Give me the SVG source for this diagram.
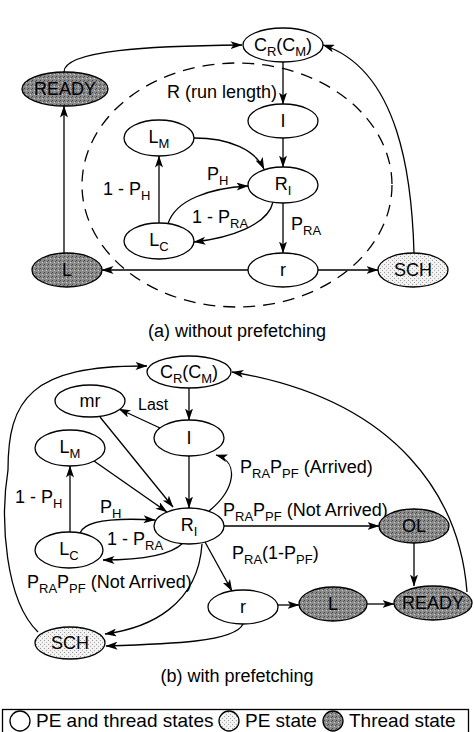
<svg xmlns="http://www.w3.org/2000/svg" width="474" height="732" viewBox="0 0 474 732">
<style>
text{font-family:"Liberation Sans",Arial,sans-serif;font-size:18px;fill:#000}
.s{font-size:13px}
.sm{font-size:16px}
.lg{font-size:19px}
.n{fill:#fff;stroke:#000;stroke-width:1.3}
.pe{fill:url(#lt);stroke:#000;stroke-width:1.3}
.th{fill:url(#dk);stroke:#000;stroke-width:1.3}
.e{fill:none;stroke:#000;stroke-width:1.3;marker-end:url(#ah)}
.m{text-anchor:middle}
</style>
<defs>
<marker id="ah" viewBox="0 0 12 8" refX="11.5" refY="4" markerWidth="12" markerHeight="8" orient="auto" markerUnits="userSpaceOnUse"><path d="M0,0 L12,4 L0,8 L3,4 z" fill="#000"/></marker>
<pattern id="lt" width="4" height="4" patternUnits="userSpaceOnUse"><rect width="4" height="4" fill="#f2f2f2"/><rect x="0" y="0" width="1" height="1" fill="#999"/><rect x="2" y="2" width="1" height="1" fill="#aaa"/></pattern>
<pattern id="dk" width="4" height="4" patternUnits="userSpaceOnUse"><rect width="4" height="4" fill="#8a8a8a"/><rect x="0" y="0" width="1" height="1" fill="#444"/><rect x="2" y="2" width="1" height="1" fill="#d0d0d0"/><rect x="3" y="1" width="1" height="1" fill="#555"/></pattern>
</defs>

<!-- (a) without prefetching -->
<ellipse cx="237" cy="185" rx="155" ry="122" fill="none" stroke="#000" stroke-width="1.3" stroke-dasharray="12,8"/>

<g id="edges-a">
<path class="e" d="M64,72 C64,50 150,46 242,45"/>
<path class="e" d="M283,62 L283,104"/>
<path class="e" d="M283,138 L283,167"/>
<path class="e" d="M194,138 C230,138 255,150 264,169"/>
<path class="e" d="M168,224 C175,200 210,188 248,186"/>
<path class="e" d="M273,202 C268,225 230,238 194,242"/>
<path class="e" d="M159,223 L159,156"/>
<path class="e" d="M283,203 L283,253"/>
<path class="e" d="M248,270 L102,270"/>
<path class="e" d="M318,270 L378,270"/>
<path class="e" d="M414,253 C412,180 400,70 323,45"/>
<path class="e" d="M64,253 L64,106"/>
<text x="167" y="98">R (run length)</text>
<text x="207" y="180">P<tspan class="s" dy="5">H</tspan></text>
<text x="103" y="195">1 - P<tspan class="s" dy="5">H</tspan></text>
<text x="192" y="223">1 - P<tspan class="s" dy="5">RA</tspan></text>
<text x="291" y="230">P<tspan class="s" dy="5">RA</tspan></text>
</g>

<g id="a-cr"><ellipse class="n" cx="283" cy="45" rx="40" ry="17"/><text class="m" x="283" y="51">C<tspan class="s" dy="5">R</tspan><tspan dy="-5">(C</tspan><tspan class="s" dy="5">M</tspan><tspan dy="-5">)</tspan></text></g>
<g id="a-i"><ellipse class="n" cx="283" cy="121" rx="35" ry="17"/><text class="m" x="283" y="127">I</text></g>
<g id="a-ri"><ellipse class="n" cx="283" cy="185" rx="35" ry="18"/><text class="m" x="283" y="190">R<tspan class="s" dy="5">I</tspan></text></g>
<g id="a-r"><ellipse class="n" cx="283" cy="270" rx="35" ry="17"/><text class="m" x="283" y="276">r</text></g>
<g id="a-sch"><ellipse class="pe" cx="413" cy="270" rx="35" ry="17"/><text class="m" x="413" y="276">SCH</text></g>
<g id="a-ready"><ellipse class="th" cx="65" cy="89" rx="43" ry="17"/><text class="m" x="65" y="95">READY</text></g>
<g id="a-l"><ellipse class="th" cx="67" cy="270" rx="35" ry="17"/><text class="m" x="67" y="276">L</text></g>
<g id="a-lm"><ellipse class="n" cx="159" cy="138" rx="35" ry="18"/><text class="m" x="159" y="143">L<tspan class="s" dy="5">M</tspan></text></g>
<g id="a-lc"><ellipse class="n" cx="159" cy="241" rx="35" ry="18"/><text class="m" x="159" y="246">L<tspan class="s" dy="5">C</tspan></text></g>

<text class="m" x="237" y="337">(a) without prefetching</text>

<!-- (b) with prefetching -->
<g id="edges-b">
<path class="e" d="M189,388 L189,420"/>
<path class="e" d="M160,428 L119,409"/>
<path class="e" d="M100,417 L173,507"/>
<path class="e" d="M94,461 L167,512"/>
<path class="e" d="M189,456 L189,508"/>
<path class="e" d="M209,511 C235,490 240,462 216,455"/>
<path class="e" d="M224,526 L379,526"/>
<path class="e" d="M205,542 L232,591"/>
<path class="e" d="M202,544 C198,605 150,628 105,634"/>
<path class="e" d="M183,543 C170,556 140,560 103,560"/>
<path class="e" d="M80,533 C85,519 120,518 155,520"/>
<path class="e" d="M70,532 L70,466"/>
<path class="e" d="M38,632 C5,600 0,520 8,470 C8,400 30,365 147,366"/>
<path class="e" d="M243,624 C235,642 170,644 106,646"/>
<path class="e" d="M278,605 L299,605"/>
<path class="e" d="M367,604 L394,604"/>
<path class="e" d="M414,543 L414,586"/>
<path class="e" d="M467,592 C460,500 400,400 232,372"/>
<text class="sm" x="138" y="410">Last</text>
<text x="15" y="503">1 - P<tspan class="s" dy="5">H</tspan></text>
<text x="100" y="513">P<tspan class="s" dy="5">H</tspan></text>
<text x="107" y="545">1 - P<tspan class="s" dy="5">RA</tspan></text>
<text x="240" y="473">P<tspan class="s" dy="5">RA</tspan><tspan dy="-5">P</tspan><tspan class="s" dy="5">PF</tspan><tspan dy="-5"> (Arrived)</tspan></text>
<text x="223" y="516">P<tspan class="s" dy="5">RA</tspan><tspan dy="-5">P</tspan><tspan class="s" dy="5">PF</tspan><tspan dy="-5"> (Not Arrived)</tspan></text>
<text x="232" y="559">P<tspan class="s" dy="5">RA</tspan><tspan dy="-5">(1-P</tspan><tspan class="s" dy="5">PF</tspan><tspan dy="-5">)</tspan></text>
<text x="27" y="588">P<tspan class="s" dy="5">RA</tspan><tspan dy="-5">P</tspan><tspan class="s" dy="5">PF</tspan><tspan dy="-5"> (Not Arrived)</tspan></text>
</g>

<g id="b-cr"><ellipse class="n" cx="189" cy="372" rx="42" ry="16"/><text class="m" x="189" y="378">C<tspan class="s" dy="5">R</tspan><tspan dy="-5">(C</tspan><tspan class="s" dy="5">M</tspan><tspan dy="-5">)</tspan></text></g>
<g id="b-mr"><ellipse class="n" cx="90" cy="401" rx="35" ry="16"/><text class="m" x="90" y="407">mr</text></g>
<g id="b-i"><ellipse class="n" cx="189" cy="438" rx="35" ry="18"/><text class="m" x="189" y="444">I</text></g>
<g id="b-lm"><ellipse class="n" cx="70" cy="448" rx="35" ry="18"/><text class="m" x="70" y="453">L<tspan class="s" dy="5">M</tspan></text></g>
<g id="b-ri"><ellipse class="n" cx="189" cy="526" rx="35" ry="18"/><text class="m" x="189" y="531">R<tspan class="s" dy="5">I</tspan></text></g>
<g id="b-lc"><ellipse class="n" cx="69" cy="550" rx="34" ry="18"/><text class="m" x="69" y="555">L<tspan class="s" dy="5">C</tspan></text></g>
<g id="b-r"><ellipse class="n" cx="243" cy="607" rx="35" ry="17"/><text class="m" x="243" y="613">r</text></g>
<g id="b-sch"><ellipse class="pe" cx="70" cy="643" rx="35" ry="16"/><text class="m" x="70" y="649">SCH</text></g>
<g id="b-l"><ellipse class="th" cx="333" cy="604" rx="34" ry="17"/><text class="m" x="333" y="610">L</text></g>
<g id="b-ready"><ellipse class="th" cx="433" cy="603" rx="39" ry="17"/><text class="m" x="433" y="609">READY</text></g>
<g id="b-ol"><ellipse class="th" cx="414" cy="526" rx="35" ry="17"/><text class="m" x="414" y="532">OL</text></g>

<text class="m" x="237" y="682">(b) with prefetching</text>

<!-- legend -->
<g id="legend">
<rect x="2.5" y="709.5" width="466" height="30" fill="none" stroke="#000" stroke-width="1.3"/>
<circle class="n" cx="20" cy="721" r="10"/>
<text class="lg" x="36" y="727">PE and thread states</text>
<circle class="pe" cx="229" cy="721" r="10"/>
<text class="lg" x="245" y="727">PE state</text>
<circle class="th" cx="333" cy="721" r="10"/>
<text class="lg" x="349" y="727">Thread state</text>
</g>
</svg>
